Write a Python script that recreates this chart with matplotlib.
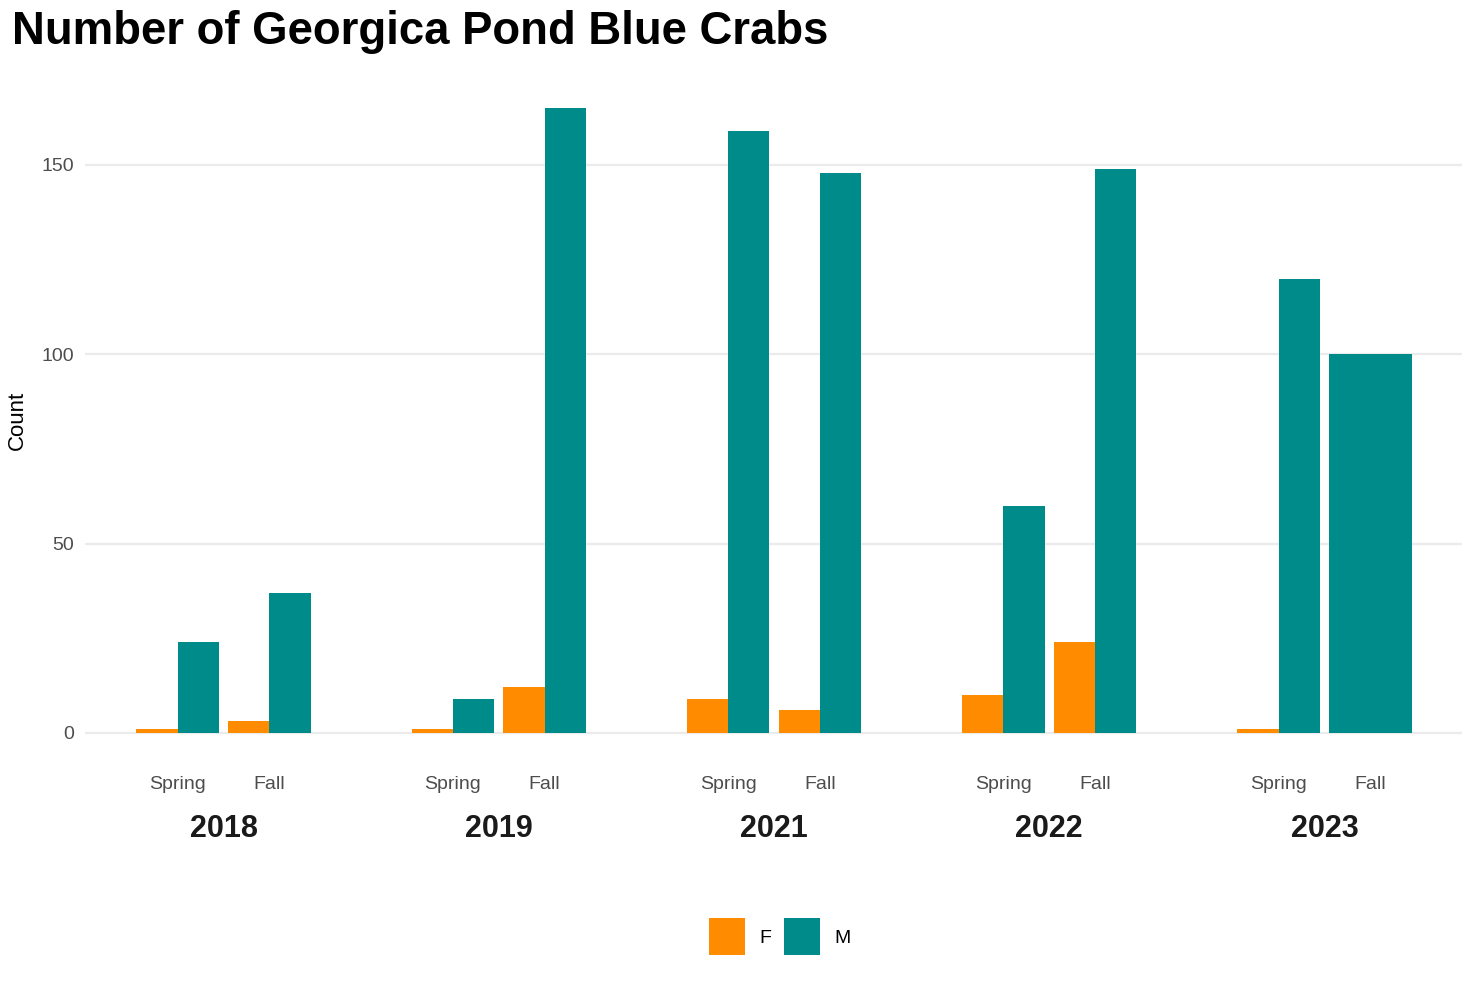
import matplotlib.pyplot as plt
import matplotlib.transforms as mtransforms
from matplotlib.patches import Patch
import numpy as np

plt.rcParams['font.family'] = ['Liberation Sans', 'DejaVu Sans']

years = ["2018", "2019", "2021", "2022", "2023"]
seasons = ["Spring", "Fall"]
# counts per year, order: Spring, Fall  (None = no female bar)
female = [[1, 3], [1, 12], [9, 6], [10, 24], [1, None]]
male = [[24, 37], [9, 165], [159, 148], [60, 149], [120, 100]]

col_f = "#FF8C00"
col_m = "#008B8B"

fig = plt.figure(figsize=(14.74, 9.82), dpi=100)
ax = fig.add_axes([0.0577, 0.222, 0.9342, 0.6996])

width = 0.9
tick_pos = []
tick_lab = []
for i, yr in enumerate(years):
    base = i * 3
    for j, s in enumerate(seasons):
        x = base + j
        tick_pos.append(x)
        tick_lab.append(s)
        f = female[i][j]
        m = male[i][j]
        if f is None:
            ax.bar(x, m, width=width, color=col_m, zorder=2)
        else:
            ax.bar(x - width / 4, f, width=width / 2, color=col_f, zorder=2)
            ax.bar(x + width / 4, m, width=width / 2, color=col_m, zorder=2)

trans = mtransforms.blended_transform_factory(ax.transData, ax.transAxes)
for i, yr in enumerate(years):
    ax.text(i * 3 + 0.5, -0.094, yr, transform=trans, ha="center", va="center",
            fontsize=22, fontweight="bold", color="#1a1a1a")

ax.set_xlim(-1.01, 14.0)
ax.set_ylim(-8.25, 173.25)
ax.set_xticks(tick_pos)
ax.set_xticklabels(tick_lab)
ax.set_yticks([0, 50, 100, 150])
ax.tick_params(axis="both", length=0, labelsize=14, labelcolor="#4d4d4d")
ax.tick_params(axis="x", pad=9)
ax.tick_params(axis="y", pad=8)
ax.grid(axis="y", color="#EBEBEB", linewidth=1.6, zorder=0)
ax.set_axisbelow(True)
for sp in ax.spines.values():
    sp.set_visible(False)

ax.set_ylabel("Count", fontsize=16, labelpad=10)

fig.text(0.008, 0.967, "Number of Georgica Pond Blue Crabs", fontsize=32.8,
         fontweight="bold", ha="left", va="center")

handles = [Patch(facecolor=col_f, label="F"), Patch(facecolor=col_m, label="M")]
fig.legend(handles=handles, loc="center", bbox_to_anchor=(0.529, 0.046), ncol=2,
           frameon=False, fontsize=14, handlelength=1.85, handleheight=2.55,
           handletextpad=0.7, columnspacing=0.7)

fig.savefig("out.png", dpi=100)
